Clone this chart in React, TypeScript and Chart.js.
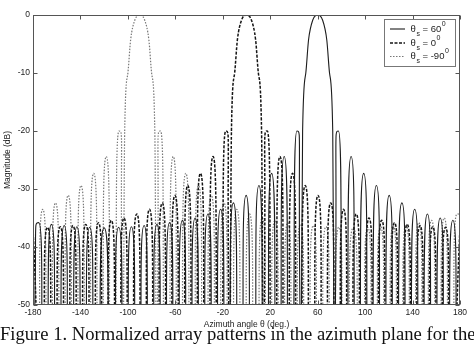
import React, { useEffect, useRef } from "react";
import { Chart, registerables } from "chart.js";

Chart.register(...registerables);

const X_TICKS = [-180, -140, -100, -60, -20, 20, 60, 100, 140, 180];
const Y_TICKS = [0, -10, -20, -30, -40, -50];
const STEER = [60, 0, -90];
const MAIN_HALF_WIDTH = 14;

// θs = 60°
const theta60 = [-180.6, -175.2, -169.9, -164.5, -159.1, -153.7, -148.4, -143, -137.6, -132.2, -126.5, -120,
  -113.5, -107.8, -102.4, -97, -91.6, -86.3, -80.9, -75.5, -70.1, -64.8, -59.4, -54, -48.6, -43.3, -37.9, -32.5,
  -27.1, -21.8, -16.4, -11, -5.6, -0.3, 5.1, 10.5, 15.8, 21.2, 26.5, 31.8, 37, 42.5, 46,
  47.3, 50, 52.3, 55.8, 60, 64.2, 67.7, 70, 72.7,
  74, 77.5, 83, 88.2, 93.5, 98.8, 104.2, 109.5, 114.9, 120.3, 125.6, 131, 136.4, 141.8, 147.1, 152.5, 157.9,
  163.3, 168.6, 174, 179.4, 184.8];
const mag60 = [-65, -35.8, -65, -36.1, -65, -36.3, -65, -36.5, -65, -36.6, -65, -36.7,
  -65, -36.6, -65, -36.5, -65, -36.3, -65, -36.1, -65, -35.8, -65, -35.4, -65, -35.0, -65, -34.3,
  -65, -33.5, -65, -32.4, -65, -31.1, -65, -29.4, -65, -27.3, -65, -24.4, -65, -20, -65,
  -20, -10, -4.3, -0.9, 0, -0.9, -4.3, -10, -20,
  -65, -20, -65, -24.4, -65, -27.3, -65, -29.4, -65, -31.1, -65, -32.4, -65, -33.5, -65, -34.3, -65,
  -35.0, -65, -35.4, -65, -35.8];

// θs = 0°
const theta0 = [-180, -173.5, -167.8, -162.4, -157, -151.6, -146.3, -140.9, -135.5, -130.1, -124.8, -119.4,
  -114, -108.6, -103.3, -97.9, -92.5, -87.1, -81.8, -76.4, -71, -65.6, -60.3, -54.9, -49.5, -44.2, -38.8,
  -33.5, -28.2, -23, -17.5, -14,
  -12.7, -10, -7.7, -4.2, 0, 4.2, 7.7, 10, 12.7,
  14, 17.5, 23, 28.2, 33.5, 38.8, 44.2, 49.5, 54.9, 60.3, 65.6, 71, 76.4, 81.8, 87.1, 92.5, 97.9, 103.3,
  108.6, 114, 119.4, 124.8, 130.1, 135.5, 140.9, 146.3, 151.6, 157, 162.4, 167.8, 173.5, 180];
const mag0 = [-36.7, -65, -36.6, -65, -36.5, -65, -36.3, -65, -36.1, -65, -35.8, -65,
  -35.4, -65, -35.0, -65, -34.3, -65, -33.5, -65, -32.4, -65, -31.1, -65, -29.4, -65, -27.3,
  -65, -24.4, -65, -20, -65,
  -20, -10, -4.3, -0.9, 0, -0.9, -4.3, -10, -20,
  -65, -20, -65, -24.4, -65, -27.3, -65, -29.4, -65, -31.1, -65, -32.4, -65, -33.5, -65, -34.3, -65, -35.0,
  -65, -35.4, -65, -35.8, -65, -36.1, -65, -36.3, -65, -36.5, -65, -36.6, -65, -36.7];

// θs = -90°
const thetaM90 = [-182.5, -177.1, -171.8, -166.4, -161, -155.6, -150.3, -144.9, -139.5, -134.2, -128.8, -123.5,
  -118.2, -113, -107.5, -104,
  -102.7, -100, -97.7, -94.2, -90, -85.8, -82.3, -80, -77.3,
  -76, -72.5, -67, -61.8, -56.5, -51.2, -45.8, -40.5, -35.1, -29.7, -24.4, -19, -13.6, -8.2, -2.9, 2.5, 7.9,
  13.3, 18.6, 24, 29.4, 34.8, 40.1, 45.5, 50.9, 56.3, 61.6, 67, 72.4, 77.8, 83.5, 90,
  96.5, 102.2, 107.6, 113, 118.4, 123.7, 129.1, 134.5, 139.9, 145.2, 150.6, 156, 161.4, 166.7, 172.1, 177.5, 182.9];
const magM90 = [-34.3, -65, -33.5, -65, -32.4, -65, -31.1, -65, -29.4, -65, -27.3, -65,
  -24.4, -65, -20, -65,
  -20, -10, -4.3, -0.9, 0, -0.9, -4.3, -10, -20,
  -65, -20, -65, -24.4, -65, -27.3, -65, -29.4, -65, -31.1, -65, -32.4, -65, -33.5, -65, -34.3, -65,
  -35.0, -65, -35.4, -65, -35.8, -65, -36.1, -65, -36.3, -65, -36.5, -65, -36.6, -65, -36.7,
  -65, -36.6, -65, -36.5, -65, -36.3, -65, -36.1, -65, -35.8, -65, -35.4, -65, -35.0, -65, -34.3, -65];

const LEGEND_ANGLES = ["60", "0", "-90"];
const SERIES_STYLES = [
  { color: "#1c1c1c", width: 1.1, dash: [] as number[] },
  { color: "#151515", width: 1.5, dash: [3, 1.5] },
  { color: "#777777", width: 1.2, dash: [1.5, 1.5] },
];

const FONT = "'Liberation Sans', Arial, sans-serif";

const framePlugin = {
  id: "frame",
  afterDatasetsDraw(chart: any) {
    const { ctx, chartArea: a, scales } = chart;
    const x = scales.x;
    const y = scales.y;
    ctx.save();
    ctx.strokeStyle = "#555";
    ctx.lineWidth = 1;
    const L = Math.round(a.left) + 0.5;
    const R = Math.round(a.right) - 0.5;
    const T = Math.round(a.top) + 0.5;
    const B = Math.round(a.bottom) - 0.5;
    ctx.strokeRect(L, T, R - L, B - T);
    ctx.beginPath();
    X_TICKS.forEach((v) => {
      const px = Math.round(x.getPixelForValue(v)) + 0.5;
      ctx.moveTo(px, B);
      ctx.lineTo(px, B - 4);
      ctx.moveTo(px, T);
      ctx.lineTo(px, T + 4);
    });
    Y_TICKS.forEach((v) => {
      const py = Math.round(y.getPixelForValue(v)) + 0.5;
      ctx.moveTo(L, py);
      ctx.lineTo(L + 4, py);
      ctx.moveTo(R, py);
      ctx.lineTo(R - 4, py);
    });
    ctx.stroke();

    // legend box
    const bx = 384.5, by = 19.5, bw = 71, bh = 47;
    ctx.fillStyle = "#fff";
    ctx.fillRect(bx, by, bw, bh);
    ctx.strokeStyle = "#777";
    ctx.strokeRect(bx, by, bw, bh);
    const rows = [29, 43, 56.5];
    rows.forEach((ry, i) => {
      const st = SERIES_STYLES[i];
      ctx.save();
      ctx.strokeStyle = st.color;
      ctx.lineWidth = st.width;
      ctx.setLineDash(st.dash);
      ctx.beginPath();
      ctx.moveTo(390, ry);
      ctx.lineTo(405, ry);
      ctx.stroke();
      ctx.restore();
      ctx.fillStyle = "#222";
      ctx.textBaseline = "middle";
      ctx.textAlign = "left";
      ctx.font = `9.5px ${FONT}`;
      ctx.fillText("θ", 410.5, ry);
      ctx.font = `7px ${FONT}`;
      ctx.fillText("s", 416.5, ry + 5);
      ctx.font = `9.5px ${FONT}`;
      const main = "= " + LEGEND_ANGLES[i];
      ctx.fillText(main, 422.5, ry);
      const w = ctx.measureText(main).width;
      ctx.font = `7px ${FONT}`;
      ctx.fillText("0", 422.5 + w + 0.5, ry - 5);
    });
    ctx.restore();
  },
};

export default function App() {
  const ref = useRef<HTMLCanvasElement | null>(null);

  useEffect(() => {
    document.body.style.margin = "0";
    const canvas = ref.current;
    if (!canvas) return;
    const series = [
      [theta60, mag60],
      [theta0, mag0],
      [thetaM90, magM90],
    ];
    const datasets: any[] = [];
    series.forEach(([xs, ys], i) => {
      const st = SERIES_STYLES[i];
      const base = {
        borderColor: st.color,
        borderWidth: st.width,
        borderDash: st.dash,
        pointRadius: 0,
        fill: false,
        clip: 0,
      };
      const inMain = (x: number) => Math.abs(x - STEER[i]) < MAIN_HALF_WIDTH;
      // sidelobes (gap over the main beam)
      datasets.push({
        ...base,
        label: `θs = ${LEGEND_ANGLES[i]}° sidelobes`,
        data: xs.map((x, k) => ({ x, y: inMain(x) ? null : ys[k] })),
        tension: 1,
        capBezierPoints: false,
      });
      // main beam
      datasets.push({
        ...base,
        label: `θs = ${LEGEND_ANGLES[i]}° main beam`,
        data: xs
          .map((x, k) => ({ x, y: ys[k] }))
          .filter((p) => Math.abs(p.x - STEER[i]) <= MAIN_HALF_WIDTH + 0.01),
        cubicInterpolationMode: "monotone",
      });
    });

    const chart = new Chart(canvas, {
      type: "line",
      data: { datasets },
      options: {
        animation: false,
        responsive: false,
        devicePixelRatio: 1,
        layout: { padding: { left: 0, right: 14, top: 15, bottom: 0 } },
        plugins: { legend: { display: false }, tooltip: { enabled: false } },
        scales: {
          x: {
            type: "linear",
            min: -180,
            max: 180,
            afterBuildTicks: (s: any) => {
              s.ticks = X_TICKS.map((v) => ({ value: v }));
            },
            afterFit: (s: any) => {
              s.height = 48;
            },
            grid: { display: false, drawTicks: false },
            border: { display: false },
            ticks: {
              padding: 3,
              maxRotation: 0,
              autoSkip: false,
              color: "#222",
              font: { family: FONT, size: 8.5 },
            },
            title: {
              display: true,
              text: "Azimuth angle θ (deg.)",
              color: "#222",
              font: { family: FONT, size: 8.5 },
              padding: { top: 0, bottom: 23 },
            },
          },
          y: {
            type: "linear",
            min: -50,
            max: 0,
            afterBuildTicks: (s: any) => {
              s.ticks = Y_TICKS.map((v) => ({ value: v }));
            },
            afterFit: (s: any) => {
              s.width = 33;
            },
            grid: { display: false, drawTicks: false },
            border: { display: false },
            ticks: {
              padding: 3,
              color: "#222",
              font: { family: FONT, size: 8.5 },
            },
            title: {
              display: true,
              text: "Magnitude (dB)",
              color: "#222",
              font: { family: FONT, size: 8.5 },
              padding: { top: 3, bottom: 0 },
            },
          },
        },
      },
      plugins: [framePlugin],
    });
    return () => chart.destroy();
  }, []);

  return (
    <div style={{ position: "relative", width: 474, height: 353, overflow: "hidden", background: "#fff" }}>
      <canvas ref={ref} width={474} height={353} style={{ display: "block", width: 474, height: 353 }} />
      <div
        style={{
          position: "absolute",
          left: 0,
          top: 324,
          width: 474,
          whiteSpace: "nowrap",
          overflow: "hidden",
          fontFamily: "'Liberation Serif', 'Times New Roman', serif",
          fontSize: 18.6,
          lineHeight: "20px",
          color: "#111",
        }}
      >
        Figure 1. Normalized array patterns in the azimuth plane for the
      </div>
    </div>
  );
}
